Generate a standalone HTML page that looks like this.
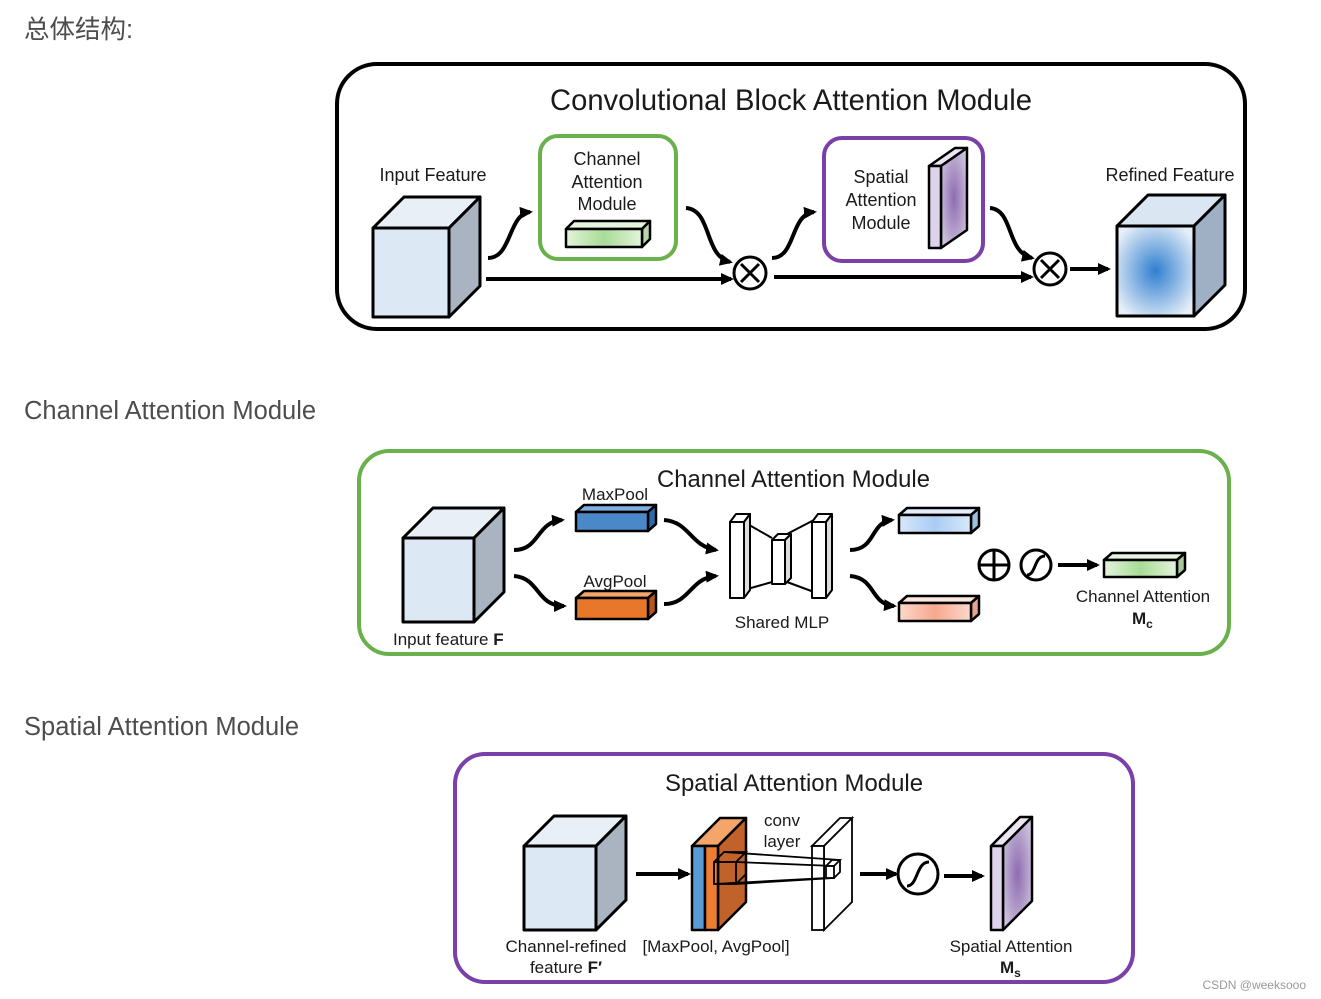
<!DOCTYPE html>
<html><head><meta charset="utf-8"><style>
html,body{margin:0;padding:0;background:#fff;width:1321px;height:999px;overflow:hidden}
svg{display:block}
.h{font-family:"Liberation Sans","Noto Sans CJK SC",sans-serif;fill:#4d4d4d;font-size:25.5px}
.t{font-family:"Liberation Sans",sans-serif;fill:#1a1a1a}
</style></head><body>
<svg width="1321" height="999" viewBox="0 0 1321 999" xmlns="http://www.w3.org/2000/svg">
<defs>
<marker id="ar" markerWidth="13" markerHeight="12" refX="10" refY="6" orient="auto" markerUnits="userSpaceOnUse"><path d="M0,0 L13,6 L0,12 Z" fill="#000"/></marker>
<radialGradient id="gB" cx="0.5" cy="0.5" r="0.6"><stop offset="0" stop-color="#2f7fd0"/><stop offset="1" stop-color="#e6eef8"/></radialGradient>
<linearGradient id="gG" x1="0" x2="1"><stop offset="0" stop-color="#e4f3dc"/><stop offset="0.5" stop-color="#a8dc96"/><stop offset="1" stop-color="#e4f3dc"/></linearGradient>
<linearGradient id="gL" x1="0" x2="1"><stop offset="0" stop-color="#d8e8fa"/><stop offset="0.5" stop-color="#a9ccf4"/><stop offset="1" stop-color="#d8e8fa"/></linearGradient>
<linearGradient id="gP" x1="0" x2="1"><stop offset="0" stop-color="#fbd9cc"/><stop offset="0.5" stop-color="#f7a88e"/><stop offset="1" stop-color="#fbd9cc"/></linearGradient>
<radialGradient id="gV" cx="0.5" cy="0.5" r="0.6"><stop offset="0" stop-color="#8e6cb0"/><stop offset="1" stop-color="#cfc4de"/></radialGradient>
</defs>
<text class="h" x="24" y="38">总体结构:</text>
<text class="h" x="24" y="419">Channel Attention Module</text>
<text class="h" x="24" y="735">Spatial Attention Module</text>

<!-- Box 1 -->
<rect x="337" y="64" width="908" height="265" rx="40" fill="#fff" stroke="#000" stroke-width="4"/>
<text class="t" x="550" y="110" font-size="30" textLength="482" lengthAdjust="spacingAndGlyphs">Convolutional Block Attention Module</text>
<text class="t" x="433" y="181" font-size="18" text-anchor="middle">Input Feature</text>
<text class="t" x="1170" y="181" font-size="18" text-anchor="middle">Refined Feature</text>
<g stroke="#000" stroke-width="3" stroke-linejoin="round">
<polygon points="373,228 404,197 480,197 449,228" fill="#e9eff7"/>
<polygon points="449,228 480,197 480,286 449,317" fill="#a9b4c0"/>
<rect x="373" y="228" width="76" height="89" fill="#dde8f5"/>
</g>
<rect x="540" y="136" width="136" height="123" rx="18" fill="#fff" stroke="#6ab04c" stroke-width="4"/>
<text class="t" font-size="18" text-anchor="middle"><tspan x="607" y="165">Channel</tspan><tspan x="607" y="188">Attention</tspan><tspan x="607" y="210">Module</tspan></text>
<g stroke="#000" stroke-width="2.5" stroke-linejoin="round">
<polygon points="566,229 574,221 650,221 642,229" fill="#e6f3df"/>
<polygon points="642,229 650,221 650,239 642,247" fill="#b9d3ad"/>
<rect x="566" y="229" width="76" height="18" fill="url(#gG)"/>
</g>
<rect x="824" y="138" width="159" height="123" rx="18" fill="#fff" stroke="#7b3fa8" stroke-width="4"/>
<text class="t" font-size="18" text-anchor="middle"><tspan x="881" y="183">Spatial</tspan><tspan x="881" y="206">Attention</tspan><tspan x="881" y="229">Module</tspan></text>
<g stroke="#000" stroke-width="2.5" stroke-linejoin="round">
<polygon points="929,166 955,148 967,148 941,166" fill="#ece6f3"/>
<polygon points="941,166 967,148 967,230 941,248" fill="url(#gV)"/>
<rect x="929" y="166" width="12" height="82" fill="#ddd3ea"/>
</g>
<g stroke="#000" stroke-width="4" fill="none">
<path d="M488,258 C512,258 508,214 530,212" marker-end="url(#ar)"/>
<line x1="486" y1="279" x2="731" y2="279" marker-end="url(#ar)"/>
<path d="M686,208 C712,210 704,256 730,262" marker-end="url(#ar)"/>
<path d="M772,258 C796,258 790,214 814,212" marker-end="url(#ar)"/>
<line x1="774" y1="277" x2="1031" y2="277" marker-end="url(#ar)"/>
<path d="M990,208 C1014,210 1006,252 1032,258" marker-end="url(#ar)"/>
<line x1="1070" y1="269" x2="1108" y2="269" marker-end="url(#ar)"/>
<circle cx="750" cy="273" r="16" fill="#fff" stroke-width="3"/>
<path d="M741,264 L759,282 M759,264 L741,282" stroke-width="3"/>
<circle cx="1050" cy="269" r="16" fill="#fff" stroke-width="3"/>
<path d="M1041,260 L1059,278 M1059,260 L1041,278" stroke-width="3"/>
</g>
<g stroke="#000" stroke-width="3" stroke-linejoin="round">
<polygon points="1117,226 1148,195 1225,195 1194,226" fill="#dbe6f3"/>
<polygon points="1194,226 1225,195 1225,285 1194,316" fill="#9fb0c4"/>
<rect x="1117" y="226" width="77" height="90" fill="url(#gB)"/>
</g>

<!-- Box 2 -->
<rect x="359" y="451" width="870" height="203" rx="30" fill="#fff" stroke="#6ab04c" stroke-width="4"/>
<text class="t" x="657" y="487" font-size="24" textLength="273" lengthAdjust="spacingAndGlyphs">Channel Attention Module</text>
<g stroke="#000" stroke-width="3" stroke-linejoin="round">
<polygon points="403,538 433,508 504,508 474,538" fill="#e9eff7"/>
<polygon points="474,538 504,508 504,592 474,622" fill="#a9b4c0"/>
<rect x="403" y="538" width="71" height="84" fill="#dde8f5"/>
</g>
<text class="t" x="393" y="645" font-size="17">Input feature <tspan font-weight="bold">F</tspan></text>
<text class="t" x="615" y="500" font-size="17" text-anchor="middle">MaxPool</text>
<text class="t" x="615" y="587" font-size="17" text-anchor="middle">AvgPool</text>
<g stroke="#000" stroke-width="2.5" stroke-linejoin="round">
<polygon points="576,512 584,505 656,505 648,512" fill="#7fb0e2"/>
<polygon points="648,512 656,505 656,524 648,531" fill="#2f6aa8"/>
<rect x="576" y="512" width="72" height="19" fill="#4a88c8"/>
<polygon points="576,598 584,591 656,591 648,598" fill="#f3a56a"/>
<polygon points="648,598 656,591 656,612 648,619" fill="#b8561a"/>
<rect x="576" y="598" width="72" height="21" fill="#e8772a"/>
</g>
<g stroke="#000" stroke-width="4" fill="none">
<path d="M514,550 C540,550 536,522 562,520" marker-end="url(#ar)"/>
<path d="M514,576 C540,578 536,606 564,606" marker-end="url(#ar)"/>
<path d="M664,520 C690,522 690,546 716,550" marker-end="url(#ar)"/>
<path d="M664,604 C690,604 690,578 716,576" marker-end="url(#ar)"/>
<path d="M850,550 C876,550 870,522 892,520" marker-end="url(#ar)"/>
<path d="M850,576 C876,578 870,604 894,606" marker-end="url(#ar)"/>
<line x1="1058" y1="565" x2="1097" y2="565" marker-end="url(#ar)"/>
</g>
<g stroke="#000" stroke-width="2" fill="#fff" stroke-linejoin="round">
<line x1="744" y1="522" x2="772" y2="538"/><line x1="744" y1="590" x2="772" y2="582"/>
<line x1="787" y1="534" x2="814" y2="520"/><line x1="787" y1="582" x2="814" y2="592"/>
<polygon points="730,522 736,514 750,514 744,522"/><polygon points="744,522 750,514 750,590 744,598" fill="#ddd"/><rect x="730" y="522" width="14" height="76"/>
<polygon points="772,540 778,534 791,534 785,540"/><polygon points="785,540 791,534 791,578 785,584" fill="#ddd"/><rect x="772" y="540" width="13" height="44"/>
<polygon points="812,522 818,514 832,514 826,522"/><polygon points="826,522 832,514 832,590 826,598" fill="#ddd"/><rect x="812" y="522" width="14" height="76"/>
</g>
<text class="t" x="782" y="628" font-size="17" text-anchor="middle">Shared MLP</text>
<g stroke="#000" stroke-width="2.5" stroke-linejoin="round">
<polygon points="899,515 907,508 979,508 971,515" fill="#e3eefa"/>
<polygon points="971,515 979,508 979,526 971,533" fill="#9fbfe0"/>
<rect x="899" y="515" width="72" height="18" fill="url(#gL)"/>
<polygon points="899,603 907,596 979,596 971,603" fill="#fde6dd"/>
<polygon points="971,603 979,596 979,614 971,621" fill="#e7a58f"/>
<rect x="899" y="603" width="72" height="18" fill="url(#gP)"/>
<polygon points="1104,560 1112,553 1185,553 1177,560" fill="#e6f3df"/>
<polygon points="1177,560 1185,553 1185,570 1177,577" fill="#a8c79b"/>
<rect x="1104" y="560" width="73" height="17" fill="url(#gG)"/>
</g>
<g stroke="#000" stroke-width="3" fill="#fff">
<circle cx="994" cy="565" r="15"/><path d="M980,565 H1008 M994,551 V579" fill="none"/>
<circle cx="1036" cy="565" r="15"/><path d="M1027,575 C1036,575 1034,556 1045,556" fill="none"/>
</g>
<text class="t" x="1143" y="602" font-size="17" text-anchor="middle">Channel Attention</text>
<text class="t" x="1132" y="624" font-size="17" font-weight="bold">M<tspan font-size="12" dy="4">c</tspan></text>

<!-- Box 3 -->
<rect x="455" y="754" width="678" height="228" rx="30" fill="#fff" stroke="#7b3fa8" stroke-width="4"/>
<text class="t" x="665" y="791" font-size="24" textLength="258" lengthAdjust="spacingAndGlyphs">Spatial Attention Module</text>
<g stroke="#000" stroke-width="3" stroke-linejoin="round">
<polygon points="524,846 554,816 626,816 596,846" fill="#e9eff7"/>
<polygon points="596,846 626,816 626,900 596,930" fill="#a9b4c0"/>
<rect x="524" y="846" width="72" height="84" fill="#dde8f5"/>
</g>
<text class="t" x="566" y="952" font-size="17" text-anchor="middle">Channel-refined</text>
<text class="t" x="566" y="973" font-size="17" text-anchor="middle">feature <tspan font-weight="bold">F′</tspan></text>
<line x1="636" y1="874" x2="688" y2="874" stroke="#000" stroke-width="4" marker-end="url(#ar)"/>
<g stroke="#000" stroke-width="2.5" stroke-linejoin="round">
<polygon points="692,846 720,818 746,818 718,846" fill="#f3a56a"/>
<polygon points="718,846 746,818 746,902 718,930" fill="#c0622a"/>
<rect x="692" y="846" width="13" height="84" fill="#5b9bd5"/>
<rect x="705" y="846" width="13" height="84" fill="#ed7d31"/>
</g>
<g stroke="#000" stroke-width="1.8" fill="none">
<polygon points="812,846 840,818 852,818 824,846" fill="#fff"/>
<polygon points="824,846 852,818 852,902 824,930" fill="#fff"/>
<rect x="812" y="846" width="12" height="84" fill="#fff"/>
<rect x="714" y="862" width="22" height="22"/><path d="M714,862 L724,852 H746 L736,862 M746,852 V874 L736,884"/>
<rect x="826" y="866" width="8" height="12"/><path d="M826,866 L832,860 H840 L834,866 M840,860 V872 L834,878"/>
<path d="M724,852 L840,860 M736,862 L834,866 M736,884 L834,878 M714,884 L826,878"/>
</g>
<text class="t" x="782" y="826" font-size="17" text-anchor="middle">conv</text>
<text class="t" x="782" y="847" font-size="17" text-anchor="middle">layer</text>
<text class="t" x="716" y="952" font-size="17" text-anchor="middle">[MaxPool, AvgPool]</text>
<line x1="860" y1="874" x2="896" y2="874" stroke="#000" stroke-width="4" marker-end="url(#ar)"/>
<g stroke="#000" stroke-width="3" fill="#fff"><circle cx="918" cy="874" r="20"/><path d="M907,886 C918,886 916,862 929,862" fill="none"/></g>
<line x1="944" y1="876" x2="982" y2="876" stroke="#000" stroke-width="4" marker-end="url(#ar)"/>
<g stroke="#000" stroke-width="2.5" stroke-linejoin="round">
<polygon points="991,846 1020,817 1032,817 1003,846" fill="#ece6f3"/>
<polygon points="1003,846 1032,817 1032,901 1003,930" fill="url(#gV)"/>
<rect x="991" y="846" width="12" height="84" fill="#ddd3ea"/>
</g>
<text class="t" x="1011" y="952" font-size="17" text-anchor="middle">Spatial Attention</text>
<text class="t" x="1000" y="973" font-size="17" font-weight="bold">M<tspan font-size="12" dy="4">s</tspan></text>
<text x="1306" y="989" font-family="Liberation Sans,sans-serif" font-size="12" fill="#999" text-anchor="end">CSDN @weeksooo</text>
</svg>
</body></html>
